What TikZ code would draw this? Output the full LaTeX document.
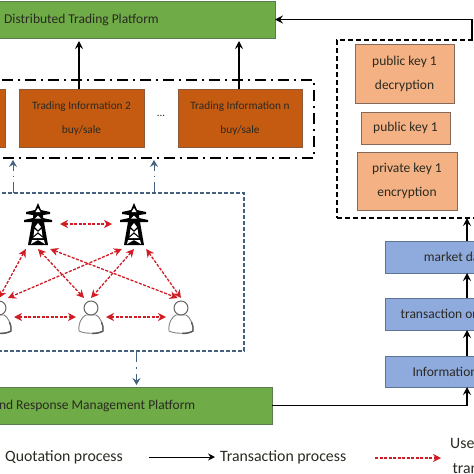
\documentclass[tikz,border=0pt]{standalone}
\usepackage{fontspec}
\setmainfont{Carlito}
\usetikzlibrary{arrows.meta,positioning,calc}
\definecolor{Ink}{HTML}{2A2A22}
\definecolor{Muted}{HTML}{44617F}
\definecolor{Leaf}{HTML}{6FAB47}
\definecolor{LeafLine}{HTML}{5B7B4A}
\definecolor{Rust}{HTML}{C55A11}
\definecolor{RustLine}{HTML}{8A5A3A}
\definecolor{Peach}{HTML}{F4B183}
\definecolor{PeachLine}{HTML}{85695A}
\definecolor{Sky}{HTML}{8FAADC}
\definecolor{SkyLine}{HTML}{5F7596}
\definecolor{Flash}{HTML}{D01C24}
\tikzset{
  box/.style={draw,line width=1pt,anchor=north west,outer sep=0pt,inner sep=0pt,align=center,text=Ink},
  platform/.style={box,draw=LeafLine,fill=Leaf,font=\fontsize{13.5}{15}\selectfont},
  infobox/.style={box,draw=RustLine,fill=Rust,font=\fontsize{11.3}{24}\selectfont},
  keybox/.style={box,draw=PeachLine,fill=Peach,font=\fontsize{13.5}{24}\selectfont},
  stagebox/.style={box,draw=SkyLine,fill=Sky,font=\fontsize{13.5}{15}\selectfont},
  tradeframe/.style={box,draw=black,line width=1.5pt,dash pattern=on 11pt off 5pt on 2pt off 5pt},
  keyframe/.style={box,draw=black,line width=1.5pt,dash pattern=on 5pt off 3pt},
  userframe/.style={box,draw=Muted,line width=1.2pt,dash pattern=on 4pt off 2pt},
  arrow/.style={-{Stealth[length=8pt,width=8pt,inset=3pt]},line width=1.2pt,draw=black},
  quote/.style={-{Stealth[length=7pt,width=8pt,inset=2.5pt]},line width=1pt,draw=Muted,dash pattern=on 11pt off 5pt on 1.5pt off 5pt,shorten >=2pt},
  power/.style={{Stealth[length=8pt,width=8pt,inset=2.5pt]}-{Stealth[length=8pt,width=8pt,inset=2.5pt]},line width=1.3pt,draw=Flash,dash pattern=on 3pt off 1.5pt},
  spot/.style={minimum width=#1,inner sep=0pt,outer sep=0pt},
  towerspot/.style={spot=44pt,minimum height=50pt},
  userspot/.style={spot=30pt,minimum height=38pt},
  legend/.style={font=\fontsize{15.8}{25}\selectfont,align=center,text=Ink,inner sep=0pt},
  tower/.pic={
    \fill[black] (0,-21)--(3,-14)--(12,-12)--(12,-10)--(5,-9)--(5,-6)--(14,-4)--(14,-2)--(6,-2)--(10,21)--(-10,21)--(-6,-2)--(-14,-2)--(-14,-4)--(-5,-6)--(-5,-9)--(-12,-10)--(-12,-12)--(-3,-14)--cycle;
    \fill[white] (0,-1)--(3,3)--(0,6)--(-3,3)--cycle;
    \fill[white] (-3.5,5)--(0,8)--(-4.5,12)--cycle;
    \fill[white] (3.5,5)--(0,8)--(4.5,12)--cycle;
    \fill[white] (0,10)--(5,14)--(-5,14)--cycle;
    \fill[white] (-6,16)--(0,16)--(-7,20)--cycle;
    \fill[white] (6,16)--(0,16)--(7,20)--cycle;
    \fill[white] (-2.5,-12)--(2.5,-12)--(0,-16)--cycle;
    \fill[white] (-3,-5.5)--(3,-5.5)--(0,-8.5)--cycle;
  },
  person/.pic={
    \draw[gray,line width=.9pt,fill=white] (-12,11) .. controls (-13,2) and (-8,-4) .. (-5,-5) -- (5,-5) .. controls (9,-3) and (12,3) .. (12,11) .. controls (6,14) and (-6,14) .. (-12,11) -- cycle;
    \draw[gray!70!black,line width=1.4pt] (10.5,2) .. controls (12,5) and (12.5,8) .. (12,11) .. controls (9,13) and (5,13.5) .. (1,13.5);
    \draw[gray!70!black,line width=.9pt,fill=white] (0,-12) circle (7);
  }
}
\begin{document}
\begin{tikzpicture}[x=1pt,y=-1pt]
\useasboundingbox (0,0) rectangle (474,474);
% platforms
\node[platform,minimum width=387pt,minimum height=37pt] (top) at (-112,1) {Distributed Trading Platform};
\node[platform,minimum width=382pt,minimum height=37pt] (dr) at (-110,387) {Demand Response Management Platform};
% trading information
\node[tradeframe,minimum width=334pt,minimum height=78pt] (tradeframe) at (-20,80) {};
\node[infobox,minimum width=25pt,minimum height=58pt] (info1) at (-20,89) {};
\node[infobox,minimum width=125pt,minimum height=58pt] (info2) at (19,89) {Trading Information 2\\buy/sale};
\node[infobox,minimum width=124pt,minimum height=58pt] (infon) at (178,89) {Trading Information n\\buy/sale};
\node[font=\fontsize{11}{13}\selectfont,text=Ink] (dots) at (161,116) {...};
\draw[arrow,shorten >=3pt] ([xshift=-2.5pt]info2.north) -- ([xshift=-2.5pt]info2.north |- top.south);
\draw[arrow,shorten >=3pt] ([xshift=-1pt]infon.north) -- ([xshift=-1pt]infon.north |- top.south);
% users and towers
\node[userframe,minimum width=264pt,minimum height=158pt] (userframe) at (-20,193) {};
\coordinate (qa) at (13,193);
\coordinate (qb) at (154,193);
\coordinate (qc) at (136.5,351);
\draw[quote] (qa) -- (qa |- tradeframe.south);
\draw[quote] (qb) -- (qb |- tradeframe.south);
\draw[quote] (qc) -- (qc |- dr.north);
\node[towerspot] (t1) at (38,224) {};
\node[towerspot] (t2) at (134,224) {};
\node[userspot] (u1) at (-1,317) {};
\node[userspot] (u2) at (91,317) {};
\node[userspot] (u3) at (181,317) {};
\pic at (t1) {tower};
\pic at (t2) {tower};
\pic at ([yshift=-3pt]u1) {person};
\pic at ([yshift=-3pt]u2) {person};
\pic at ([yshift=-3pt]u3) {person};
\draw[power] (t1) -- (t2);
\draw[power] (u1) -- (u2);
\draw[power] (u2) -- (u3);
\draw[power] (t1.244) -- (u1.north);
\draw[power] (t1.south) -- (u2.110);
\draw[power] (t1.296) -- (u3.100);
\draw[power] (t2.244) -- (u1.65);
\draw[power] (t2.south) -- (u2.north);
\draw[power] (t2.296) -- (u3.north);
% keys
\node[keyframe,minimum width=143pt,minimum height=178pt] (keyframe) at (337,40) {};
\node[keybox,minimum width=99pt,minimum height=59pt] (decrypt) at (355,44) {public key 1\\decryption};
\node[keybox,minimum width=89pt,minimum height=32pt] (pubkey) at (361,112) {public key 1};
\node[keybox,minimum width=100pt,minimum height=58pt] (encrypt) at (357,152) {private key 1\\encryption};
\coordinate (keyout) at (472,40);
\draw[arrow] (keyout) |- (top.east);
% stages
\node[stagebox,minimum width=144pt,minimum height=32pt] (market) at (385,241) {market data};
\node[stagebox,minimum width=126pt,minimum height=32pt] (order) at (385,298) {transaction order};
\node[stagebox,minimum width=120pt,minimum height=31pt] (inform) at (385,356) {Information};
\coordinate (flow) at (467,300);
\draw[arrow] (dr.east) -| (flow |- inform.south);
\draw[arrow] (flow |- inform.north) -- (flow |- order.south);
\draw[arrow] (flow |- order.north) -- (flow |- market.south);
\draw[arrow] (flow |- market.north) -- (flow |- keyframe.south);
% legend
\node[legend,anchor=west] (quotelabel) at (5,457) {Quotation process};
\node[legend,anchor=west] (tradelabel) at (220,457) {Transaction process};
\node[legend,anchor=west] (userlabel) at (450,456) {User energy\\transaction};
\coordinate (la) at (149,457);
\coordinate (lb) at (215,457);
\coordinate (lc) at (375,458);
\coordinate (ld) at (441,458);
\draw[-{Stealth[length=7pt,width=7pt,inset=2.5pt]},line width=1pt] (la) -- (lb);
\draw[-{Stealth[length=8pt,width=8pt,inset=2.5pt]},line width=1.2pt,draw=Flash,dash pattern=on 3pt off 1.5pt] (lc) -- (ld);
\end{tikzpicture}
\end{document}
